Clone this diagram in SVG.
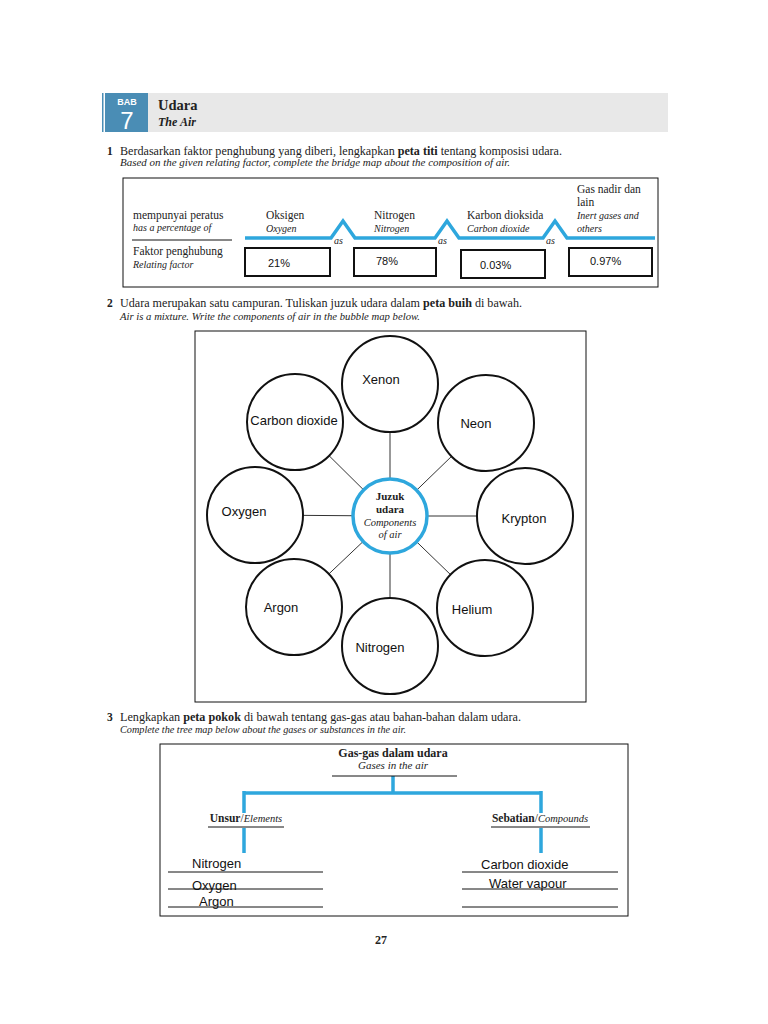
<svg xmlns="http://www.w3.org/2000/svg" width="768" height="1024" viewBox="0 0 768 1024">
<style>
.serif{font-family:"Liberation Serif","DejaVu Serif",serif;fill:#222}
.it{font-style:italic}
.b{font-weight:bold}
.sans{font-family:"Liberation Sans",Arial,sans-serif;fill:#111}
.bub{fill:#fff;stroke:#111;stroke-width:2}
.conn{stroke:#333;stroke-width:1}
.blue{fill:none;stroke:#2ea7dd;stroke-width:3.5}
.blk{stroke:#111;stroke-width:1}
.pbox{fill:#fff;stroke:#111;stroke-width:2}
</style>
<rect width="768" height="1024" fill="#fff"/>

<!-- header -->
<g id="header">
<rect x="148" y="93" width="520" height="39" fill="#e8e8e8"/>
<rect x="102" y="93" width="1.5" height="39" fill="#4a8db5"/>
<rect x="105" y="93" width="43" height="39" fill="#4a8db5"/>
<text x="127" y="105" text-anchor="middle" font-family="Liberation Sans,Arial,sans-serif" font-weight="bold" font-size="9" fill="#fff">BAB</text>
<text x="127" y="129" text-anchor="middle" font-family="Liberation Sans,Arial,sans-serif" font-size="24" fill="#fff">7</text>
<text x="158" y="110" class="serif b" font-size="14.5">Udara</text>
<text x="158" y="126" class="serif b it" font-size="12">The Air</text>
</g>

<!-- question 1 -->
<g id="q1">
<text x="107" y="155" class="serif b" font-size="11.5">1</text>
<text x="120" y="155" class="serif" font-size="11.5" textLength="442" lengthAdjust="spacingAndGlyphs">Berdasarkan faktor penghubung yang diberi, lengkapkan <tspan class="b">peta titi</tspan> tentang komposisi udara.</text>
<text x="120" y="166" class="serif it" font-size="9.5" textLength="390" lengthAdjust="spacingAndGlyphs">Based on the given relating factor, complete the bridge map about the composition of air.</text>
</g>

<g id="bridge">
<rect x="123" y="178" width="535" height="109" fill="none" stroke="#111" stroke-width="1"/>
<text x="133" y="219" class="serif" font-size="11.5">mempunyai peratus</text>
<text x="133" y="231" class="serif it" font-size="10">has a percentage of</text>
<line x1="132" y1="240" x2="232" y2="240" class="blk"/>
<text x="133" y="255" class="serif" font-size="11.5">Faktor penghubung</text>
<text x="133" y="268" class="serif it" font-size="10">Relating factor</text>
<path class="blue" d="M245,238 L331,238 L343,221 L355,238 L435,238 L447,221 L459,238 L543,238 L555,221 L567,238 L655,238"/>
<text x="334" y="244" class="serif it" font-size="10">as</text>
<text x="438" y="244" class="serif it" font-size="10">as</text>
<text x="546" y="244" class="serif it" font-size="10">as</text>
<text x="266" y="219" class="serif" font-size="11.5">Oksigen</text>
<text x="266" y="232" class="serif it" font-size="10">Oxygen</text>
<text x="374" y="219" class="serif" font-size="11.5">Nitrogen</text>
<text x="374" y="232" class="serif it" font-size="10">Nitrogen</text>
<text x="467" y="219" class="serif" font-size="11.5">Karbon dioksida</text>
<text x="467" y="232" class="serif it" font-size="10">Carbon dioxide</text>
<text x="577" y="193" class="serif" font-size="11.5">Gas nadir dan</text>
<text x="577" y="206" class="serif" font-size="11.5">lain</text>
<text x="577" y="219" class="serif it" font-size="10">Inert gases and</text>
<text x="577" y="232" class="serif it" font-size="10">others</text>
<rect x="245" y="248" width="85" height="28" class="pbox"/>
<rect x="354" y="248" width="82" height="28" class="pbox"/>
<rect x="461" y="250" width="84" height="28" class="pbox"/>
<rect x="569" y="248" width="83" height="28" class="pbox"/>
<text x="268" y="267" class="sans" font-size="11">21%</text>
<text x="376" y="265" class="sans" font-size="11">78%</text>
<text x="480" y="269" class="sans" font-size="11">0.03%</text>
<text x="590" y="265" class="sans" font-size="11">0.97%</text>
</g>

<!-- question 2 -->
<g id="q2">
<text x="107" y="307" class="serif b" font-size="11.5">2</text>
<text x="120" y="307" class="serif" font-size="11.5" textLength="402" lengthAdjust="spacingAndGlyphs">Udara merupakan satu campuran. Tuliskan juzuk udara dalam <tspan class="b">peta buih</tspan> di bawah.</text>
<text x="120" y="320" class="serif it" font-size="9.5" textLength="300" lengthAdjust="spacingAndGlyphs">Air is a mixture. Write the components of air in the bubble map below.</text>
</g>

<rect x="195" y="331" width="391" height="371" fill="none" stroke="#111" stroke-width="1"/>

<g id="connectors">
<line class="conn" x1="390" y1="516" x2="390" y2="384"/>
<line class="conn" x1="390" y1="516" x2="295" y2="422"/>
<line class="conn" x1="390" y1="516" x2="486" y2="423"/>
<line class="conn" x1="390" y1="516" x2="255" y2="515"/>
<line class="conn" x1="390" y1="516" x2="525" y2="516"/>
<line class="conn" x1="390" y1="516" x2="294" y2="607"/>
<line class="conn" x1="390" y1="516" x2="485" y2="608"/>
<line class="conn" x1="390" y1="516" x2="390" y2="646"/>
</g>

<g id="n-xenon"><circle class="bub" cx="390" cy="384" r="48"/><text x="381" y="384" text-anchor="middle" class="sans" font-size="13">Xenon</text></g>
<g id="n-co2"><circle class="bub" cx="295" cy="422" r="48"/><text x="294" y="425" text-anchor="middle" class="sans" font-size="13">Carbon dioxide</text></g>
<g id="n-neon"><circle class="bub" cx="486" cy="423" r="48"/><text x="476" y="428" text-anchor="middle" class="sans" font-size="13">Neon</text></g>
<g id="n-oxygen"><circle class="bub" cx="255" cy="515" r="48"/><text x="244" y="516" text-anchor="middle" class="sans" font-size="13">Oxygen</text></g>
<g id="n-krypton"><circle class="bub" cx="525" cy="516" r="48"/><text x="524" y="523" text-anchor="middle" class="sans" font-size="13">Krypton</text></g>
<g id="n-argon"><circle class="bub" cx="294" cy="607" r="48"/><text x="281" y="612" text-anchor="middle" class="sans" font-size="13">Argon</text></g>
<g id="n-helium"><circle class="bub" cx="485" cy="608" r="48"/><text x="472" y="614" text-anchor="middle" class="sans" font-size="13">Helium</text></g>
<g id="n-nitrogen"><circle class="bub" cx="390" cy="646" r="48"/><text x="380" y="652" text-anchor="middle" class="sans" font-size="13">Nitrogen</text></g>
<g id="n-center">
<circle cx="390" cy="516" r="37" fill="#fff" stroke="#2ea7dd" stroke-width="3.5"/>
<text x="390" y="500" text-anchor="middle" class="serif b" font-size="11">Juzuk</text>
<text x="390" y="513" text-anchor="middle" class="serif b" font-size="11">udara</text>
<text x="390" y="526" text-anchor="middle" class="serif it" font-size="10.5">Components</text>
<text x="390" y="538" text-anchor="middle" class="serif it" font-size="10.5">of air</text>
</g>

<!-- question 3 -->
<g id="q3">
<text x="107" y="721" class="serif b" font-size="11.5">3</text>
<text x="120" y="721" class="serif" font-size="11.5" textLength="401" lengthAdjust="spacingAndGlyphs">Lengkapkan <tspan class="b">peta pokok</tspan> di bawah tentang gas-gas atau bahan-bahan dalam udara.</text>
<text x="120" y="733" class="serif it" font-size="9.5" textLength="286" lengthAdjust="spacingAndGlyphs">Complete the tree map below about the gases or substances in the air.</text>
</g>

<rect x="160" y="744" width="468" height="172" fill="none" stroke="#111" stroke-width="1"/>

<g id="tree-connectors">
<path class="blue" d="M393,776 V793 M244,793 H541 M244,791 V813 M541,791 V813 M244,828 V853 M541,828 V853" stroke-width="4"/>
</g>
<g id="t-root">
<text x="393" y="757" text-anchor="middle" class="serif b" font-size="12">Gas-gas dalam udara</text>
<text x="393" y="769" text-anchor="middle" class="serif it" font-size="11">Gases in the air</text>
<line x1="332" y1="776" x2="457" y2="776" class="blk"/>
</g>
<g id="t-unsur">
<text x="246" y="822" text-anchor="middle" class="serif" font-size="11.5"><tspan class="b">Unsur</tspan>/<tspan class="it" font-size="10.5">Elements</tspan></text>
<line x1="208" y1="827" x2="284" y2="827" class="blk"/>
</g>
<g id="t-sebatian">
<text x="540" y="822" text-anchor="middle" class="serif" font-size="11.5"><tspan class="b">Sebatian</tspan>/<tspan class="it" font-size="10.5">Compounds</tspan></text>
<line x1="491" y1="827" x2="590" y2="827" class="blk"/>
</g>
<g id="t-lists">
<line x1="168" y1="872" x2="323" y2="872" class="blk"/>
<line x1="168" y1="889" x2="323" y2="889" class="blk"/>
<line x1="168" y1="907" x2="323" y2="907" class="blk"/>
<line x1="462" y1="872" x2="618" y2="872" class="blk"/>
<line x1="462" y1="889" x2="618" y2="889" class="blk"/>
<line x1="462" y1="907" x2="618" y2="907" class="blk"/>
<text x="192" y="868" class="sans" font-size="13">Nitrogen</text>
<text x="192" y="890" class="sans" font-size="13">Oxygen</text>
<text x="199" y="906" class="sans" font-size="13">Argon</text>
<text x="481" y="869" class="sans" font-size="13">Carbon dioxide</text>
<text x="489" y="888" class="sans" font-size="13">Water vapour</text>
</g>

<text x="381" y="944" text-anchor="middle" class="serif b" font-size="12">27</text>
</svg>
